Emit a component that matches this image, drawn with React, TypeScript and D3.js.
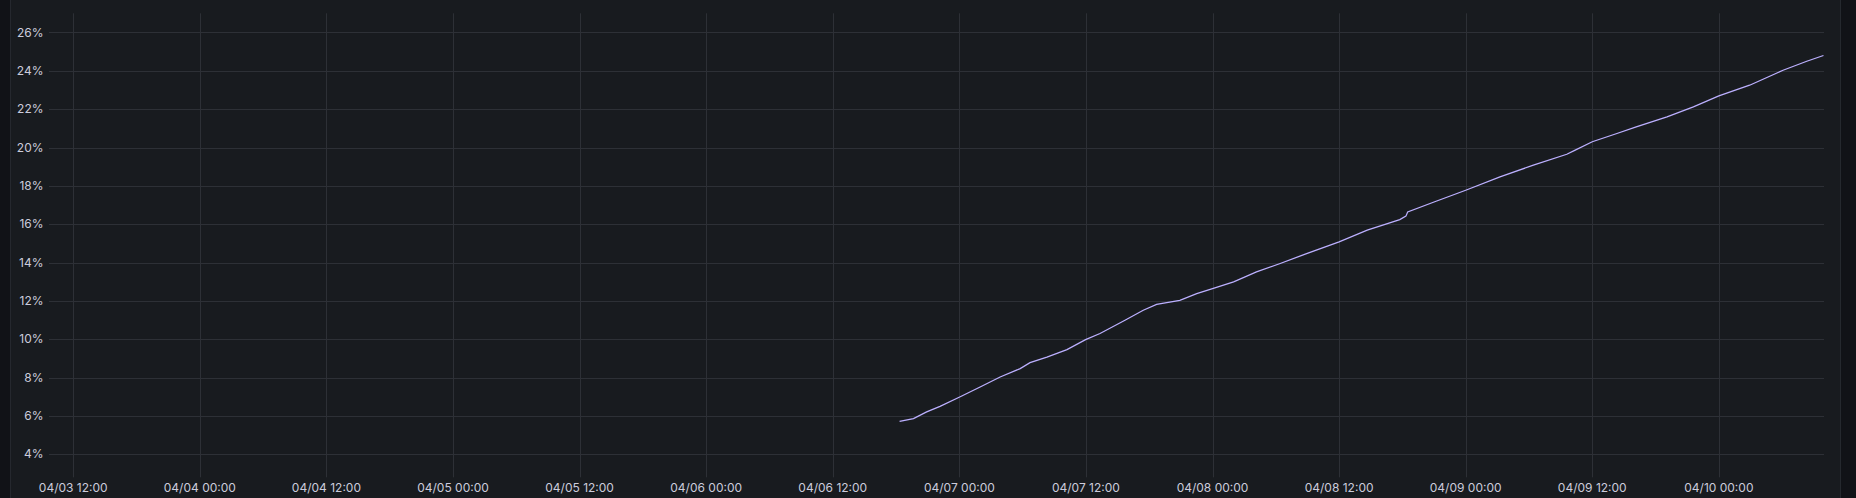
import * as d3 from "d3";
import { useEffect, useRef } from "react";

// readings, local time
const times = [
  "2024-04-06T18:20", "2024-04-06T19:39", "2024-04-06T20:54", "2024-04-06T22:10",
  "2024-04-07T00:02", "2024-04-07T01:58", "2024-04-07T03:52", "2024-04-07T05:46",
  "2024-04-07T06:42", "2024-04-07T08:18", "2024-04-07T10:12", "2024-04-07T11:58",
  "2024-04-07T13:20", "2024-04-07T15:42", "2024-04-07T17:26", "2024-04-07T18:42",
  "2024-04-07T20:54", "2024-04-07T22:30", "2024-04-08T00:00", "2024-04-08T02:00",
  "2024-04-08T04:10", "2024-04-08T06:25", "2024-04-08T08:55", "2024-04-08T12:00",
  "2024-04-08T14:40", "2024-04-08T17:45", "2024-04-08T18:20", "2024-04-08T18:30",
  "2024-04-08T21:00", "2024-04-09T00:00", "2024-04-09T03:15", "2024-04-09T06:25",
  "2024-04-09T09:35", "2024-04-09T10:20", "2024-04-09T12:00", "2024-04-09T14:20",
  "2024-04-09T16:10", "2024-04-09T19:05", "2024-04-09T21:35", "2024-04-10T00:00",
  "2024-04-10T02:55", "2024-04-10T06:05", "2024-04-10T08:20", "2024-04-10T09:55",
];
const values = [
  5.72, 5.86, 6.21, 6.5,
  6.99, 7.51, 8.03, 8.47,
  8.78, 9.07, 9.46, 9.98,
  10.3, 10.99, 11.51, 11.82,
  12.03, 12.38, 12.64, 12.99,
  13.51, 13.95, 14.47, 15.08,
  15.69, 16.24, 16.42, 16.64,
  17.16, 17.77, 18.47, 19.08,
  19.65, 19.85, 20.3, 20.73,
  21.08, 21.6, 22.12, 22.69,
  23.25, 24.03, 24.5, 24.8,
];
const yTicks = [4, 6, 8, 10, 12, 14, 16, 18, 20, 22, 24, 26];
const xTickLabels = [
  "04/03 12:00", "04/04 00:00", "04/04 12:00", "04/05 00:00", "04/05 12:00",
  "04/06 00:00", "04/06 12:00", "04/07 00:00", "04/07 12:00", "04/08 00:00",
  "04/08 12:00", "04/09 00:00", "04/09 12:00", "04/10 00:00",
];

export default function App() {
  const ref = useRef<SVGSVGElement | null>(null);

  useEffect(() => {
    const width = 1856;
    const height = 498;
    const svg = d3.select(ref.current);
    svg.selectAll("*").remove();
    svg.attr("width", width).attr("height", height);

    const left = 49;
    const right = 1824;
    const top = 13.3;
    const bottom = 477.3;

    const parse = d3.timeParse("%Y-%m-%dT%H:%M");
    const fmt = d3.timeFormat("%m/%d %H:%M");
    const x = d3
      .scaleTime()
      .domain([parse("2024-04-03T09:42")!, parse("2024-04-10T09:58")!])
      .range([left, right]);
    const y = d3.scaleLinear().domain([2.8, 27.0]).range([bottom, top]);

    svg.append("rect").attr("width", width).attr("height", height).attr("fill", "#111217");
    svg
      .append("rect")
      .attr("x", 10.5)
      .attr("y", -2)
      .attr("width", 1830)
      .attr("height", height + 4)
      .attr("fill", "#181b1f")
      .attr("stroke", "#25282e");

    const xTicks = d3.timeHour
      .every(12)!
      .range(parse("2024-04-03T12:00")!, parse("2024-04-10T00:01")!);

    // grid
    svg
      .append("g")
      .selectAll("line")
      .data(yTicks)
      .enter()
      .append("line")
      .attr("x1", left)
      .attr("x2", right)
      .attr("y1", (d) => Math.round(y(d)) + 0.5)
      .attr("y2", (d) => Math.round(y(d)) + 0.5)
      .attr("stroke", "#2d3036");

    svg
      .append("g")
      .selectAll("line")
      .data(xTicks)
      .enter()
      .append("line")
      .attr("y1", top)
      .attr("y2", bottom)
      .attr("x1", (d) => Math.round(x(d)) + 0.5)
      .attr("x2", (d) => Math.round(x(d)) + 0.5)
      .attr("stroke", "#2d3036");

    // axis labels
    svg
      .append("g")
      .selectAll("text")
      .data(yTicks)
      .enter()
      .append("text")
      .attr("x", 43.5)
      .attr("y", (d) => y(d))
      .attr("dy", "0.35em")
      .attr("text-anchor", "end")
      .attr("fill", "#ccccdc")
      .style("font-family", "Inter, sans-serif")
      .style("font-size", "12px")
      .text((d) => `${d}%`);

    svg
      .append("g")
      .selectAll("text")
      .data(xTicks)
      .enter()
      .append("text")
      .attr("x", (d) => x(d))
      .attr("y", 491.5)
      .attr("text-anchor", "middle")
      .attr("fill", "#ccccdc")
      .style("font-family", "Inter, sans-serif")
      .style("font-size", "12px")
      .text((d, i) => xTickLabels[i] ?? fmt(d));

    const data = times.map((t, i) => ({ t: parse(t)!, v: values[i] }));
    const line = d3
      .line<{ t: Date; v: number }>()
      .x((d) => x(d.t))
      .y((d) => y(d.v));

    svg
      .append("path")
      .datum(data)
      .attr("d", line)
      .attr("fill", "none")
      .attr("stroke", "#bcb0ff")
      .attr("stroke-width", 1.25);
  }, []);

  return (
    <div style={{ position: "fixed", left: 0, top: 0 }}>
      <svg ref={ref} style={{ display: "block" }}></svg>
    </div>
  );
}
